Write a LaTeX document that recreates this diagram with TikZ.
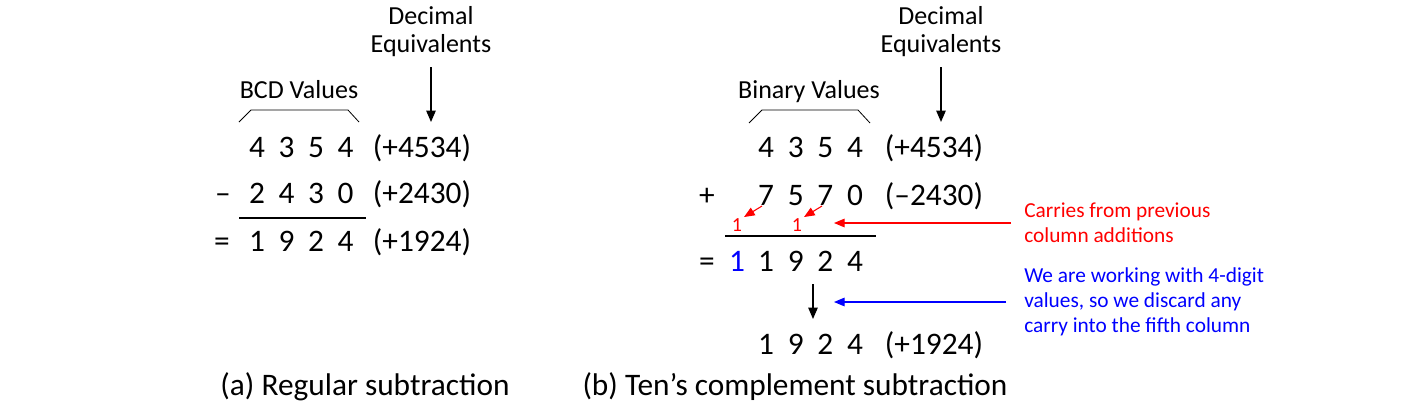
\documentclass[tikz,border=0pt]{standalone}
\usepackage{fontspec}
\setmainfont{Carlito}
\usetikzlibrary{arrows.meta}
\begin{document}
\begin{tikzpicture}[x=0.75pt,y=-0.75pt,
  dig/.style={inner sep=0pt, anchor=base, font=\fontsize{23.5}{28}\selectfont},
  lbl/.style={inner sep=0pt, align=center, anchor=south, font=\fontsize{19.5}{21}\selectfont},
  note/.style={inner sep=0pt, align=left, anchor=west, font=\fontsize{16}{18.75}\selectfont},
  carry/.style={inner sep=0pt, anchor=base, text=red, font=\fontsize{15}{17}\selectfont},
  darrow/.style={line width=1.1pt, -{Triangle[width=7pt,length=8.5pt]}},
  carrow/.style={line width=0.8pt, -{Triangle[width=6.5pt,length=8pt]}},
  bracket/.style={line width=0.6pt, line join=miter},
  sumline/.style={line width=1.5pt}
]
\useasboundingbox (0,0) rectangle (1418,408);

% ---------------- (a) ----------------
\node[lbl] (decA) at (431,57) {Decimal\\Equivalents};
\coordinate (decAtip) at (431,122);
\draw[darrow] ([yshift=-7.5pt]decA.south) -- (decAtip);
\node[inner sep=0pt, anchor=base, font=\fontsize{19.5}{21}\selectfont] (bcd) at (299,98) {BCD Values};
\coordinate (bA1) at (239,122); \coordinate (bA2) at (251,110);
\coordinate (bA3) at (348,110); \coordinate (bA4) at (359,122);
\draw[bracket] (bA1) -- (bA2) -- (bA3) -- (bA4);

\foreach \d [count=\i] in {4,3,5,4} \node[dig] (a1\i) at ({257+29.5*(\i-1)},157) {\d};
\node[dig] (a1d) at (422,157) {(+4534)};
\node[dig] (aminus) at (223,203) {–};
\foreach \d [count=\i] in {2,4,3,0} \node[dig] (a2\i) at ({257+29.5*(\i-1)},203) {\d};
\node[dig] (a2d) at (422,203) {(+2430)};
\coordinate (aL1) at (239,218); \coordinate (aL2) at (366,218);
\draw[sumline] (aL1) -- (aL2);
\node[dig] (aeq) at (222,251) {=};
\foreach \d [count=\i] in {1,9,2,4} \node[dig] (a3\i) at ({257+29.5*(\i-1)},251) {\d};
\node[dig] (a3d) at (422,251) {(+1924)};

\node[dig] (capA) at (365,395) {(a) Regular subtraction};

% ---------------- (b) ----------------
\node[lbl] (decB) at (941,57) {Decimal\\Equivalents};
\coordinate (decBtip) at (941,122);
\draw[darrow] ([yshift=-7.5pt]decB.south) -- (decBtip);
\node[inner sep=0pt, anchor=base, font=\fontsize{19.5}{21}\selectfont] (bin) at (809,98) {Binary Values};
\coordinate (bB1) at (749,123); \coordinate (bB2) at (762,110);
\coordinate (bB3) at (858,110); \coordinate (bB4) at (870,123);
\draw[bracket] (bB1) -- (bB2) -- (bB3) -- (bB4);

\foreach \d [count=\i] in {4,3,5,4} \node[dig] (b1\i) at ({766+29.7*(\i-1)},157) {\d};
\node[dig] (b1d) at (934,157) {(+4534)};
\node[dig] (bplus) at (707,205) {+};
\foreach \d [count=\i] in {7,5,7,0} \node[dig] (b2\i) at ({766+29.7*(\i-1)},205) {\d};
\node[dig] (b2d) at (934,205) {(–2430)};

\node[carry] (c1) at (737,231) {1};
\node[carry] (c2) at (797,231) {1};
\coordinate (c1s) at (762,206); \coordinate (c1e) at (744,217);
\coordinate (c2s) at (822,206); \coordinate (c2e) at (804,217);
\draw[carrow, red] (c1s) -- (c1e);
\draw[carrow, red] (c2s) -- (c2e);

\coordinate (bL1) at (725,236); \coordinate (bL2) at (876,236);
\draw[sumline] (bL1) -- (bL2);

\node[dig] (beq) at (707,271) {=};
\node[dig, text=blue] (bcar) at (737,271) {1};
\foreach \d [count=\i] in {1,9,2,4} \node[dig] (b3\i) at ({766+29.7*(\i-1)},271) {\d};

\coordinate (dnS) at (813,284); \coordinate (dnE) at (813,319);
\draw[darrow] (dnS) -- (dnE);

\foreach \d [count=\i] in {1,9,2,4} \node[dig] (b4\i) at ({766+29.7*(\i-1)},354) {\d};
\node[dig] (b4d) at (934,354) {(+1924)};

\node[dig] (capB) at (795,395) {(b) Ten’s complement subtraction};

% notes
\node[note, text=red] (rednote) at (1024,223) {Carries from previous\\column additions};
\coordinate (redtip) at (834,223);
\draw[carrow, red] ([xshift=-9.75pt]rednote.west) -- (redtip);

\node[note, text=blue] (bluenote) at (1024,302) {We are working with 4-digit\\values, so we discard any\\carry into the fifth column};
\coordinate (bluetip) at (834,302);
\draw[carrow, blue] ([xshift=-13.5pt]bluenote.west) -- (bluetip);
\end{tikzpicture}
\end{document}
